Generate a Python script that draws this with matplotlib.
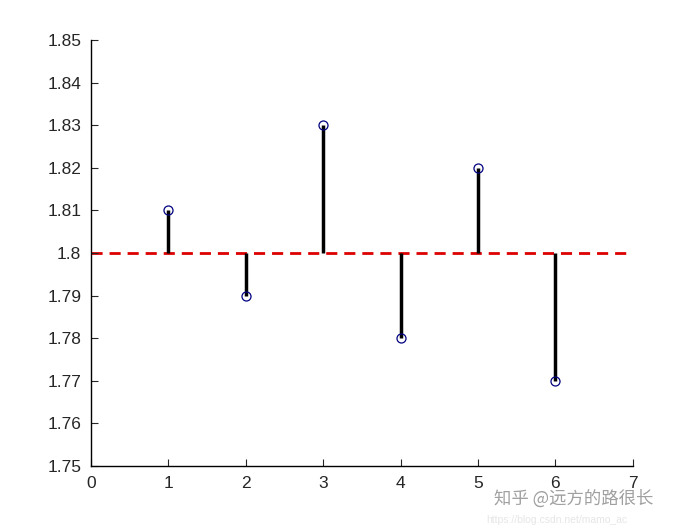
import matplotlib
matplotlib.use("Agg")
import matplotlib.pyplot as plt

x = [1, 2, 3, 4, 5, 6]
y = [1.81, 1.79, 1.83, 1.78, 1.82, 1.77]
baseline = 1.8
xticks = [0, 1, 2, 3, 4, 5, 6, 7]
yticks = [1.75, 1.76, 1.77, 1.78, 1.79, 1.80, 1.81, 1.82, 1.83, 1.84, 1.85]
yticklabels = ["1.75", "1.76", "1.77", "1.78", "1.79", "1.8", "1.81", "1.82", "1.83", "1.84", "1.85"]

plt.rcParams['font.family'] = ['Liberation Sans', 'DejaVu Sans']
fig = plt.figure(figsize=(7, 5.25), dpi=100)
ax = fig.add_axes([0.13, 0.1124, 0.774, 0.8115])

ax.vlines(x, baseline, y, colors='black', linewidth=2.5, zorder=2)
ax.plot(x, y, 'o', markersize=6.5, markerfacecolor='none', markeredgecolor='#000080', markeredgewidth=0.9, zorder=3)
ax.axhline(baseline, color='#dd0000', linestyle=(0, (4, 2.5)), linewidth=2, zorder=1)

ax.set_xlim(0, 7)
ax.set_ylim(1.75, 1.85)
ax.set_xticks(xticks)
ax.set_xticklabels([str(t) for t in xticks])
ax.set_yticks(yticks)
ax.set_yticklabels(yticklabels)
ax.spines['top'].set_visible(False)
ax.spines['right'].set_visible(False)
for s in ['left', 'bottom']:
    ax.spines[s].set_linewidth(1.0)
ax.tick_params(direction='in', length=5, width=0.8, labelsize=12.5, colors='#262626', pad=7)

fig.text(0.705, 0.05, '知乎 @远方的路很长', family=['Noto Sans CJK SC', 'DejaVu Sans'],
         fontsize=12.5, color='#a0a0a0', ha='left', va='center')
fig.text(0.695, 0.0, 'https://blog.csdn.net/mamo_ac', fontsize=7.5, color='#e6e6e6', ha='left', va='bottom')

fig.savefig('out.png', dpi=100)
